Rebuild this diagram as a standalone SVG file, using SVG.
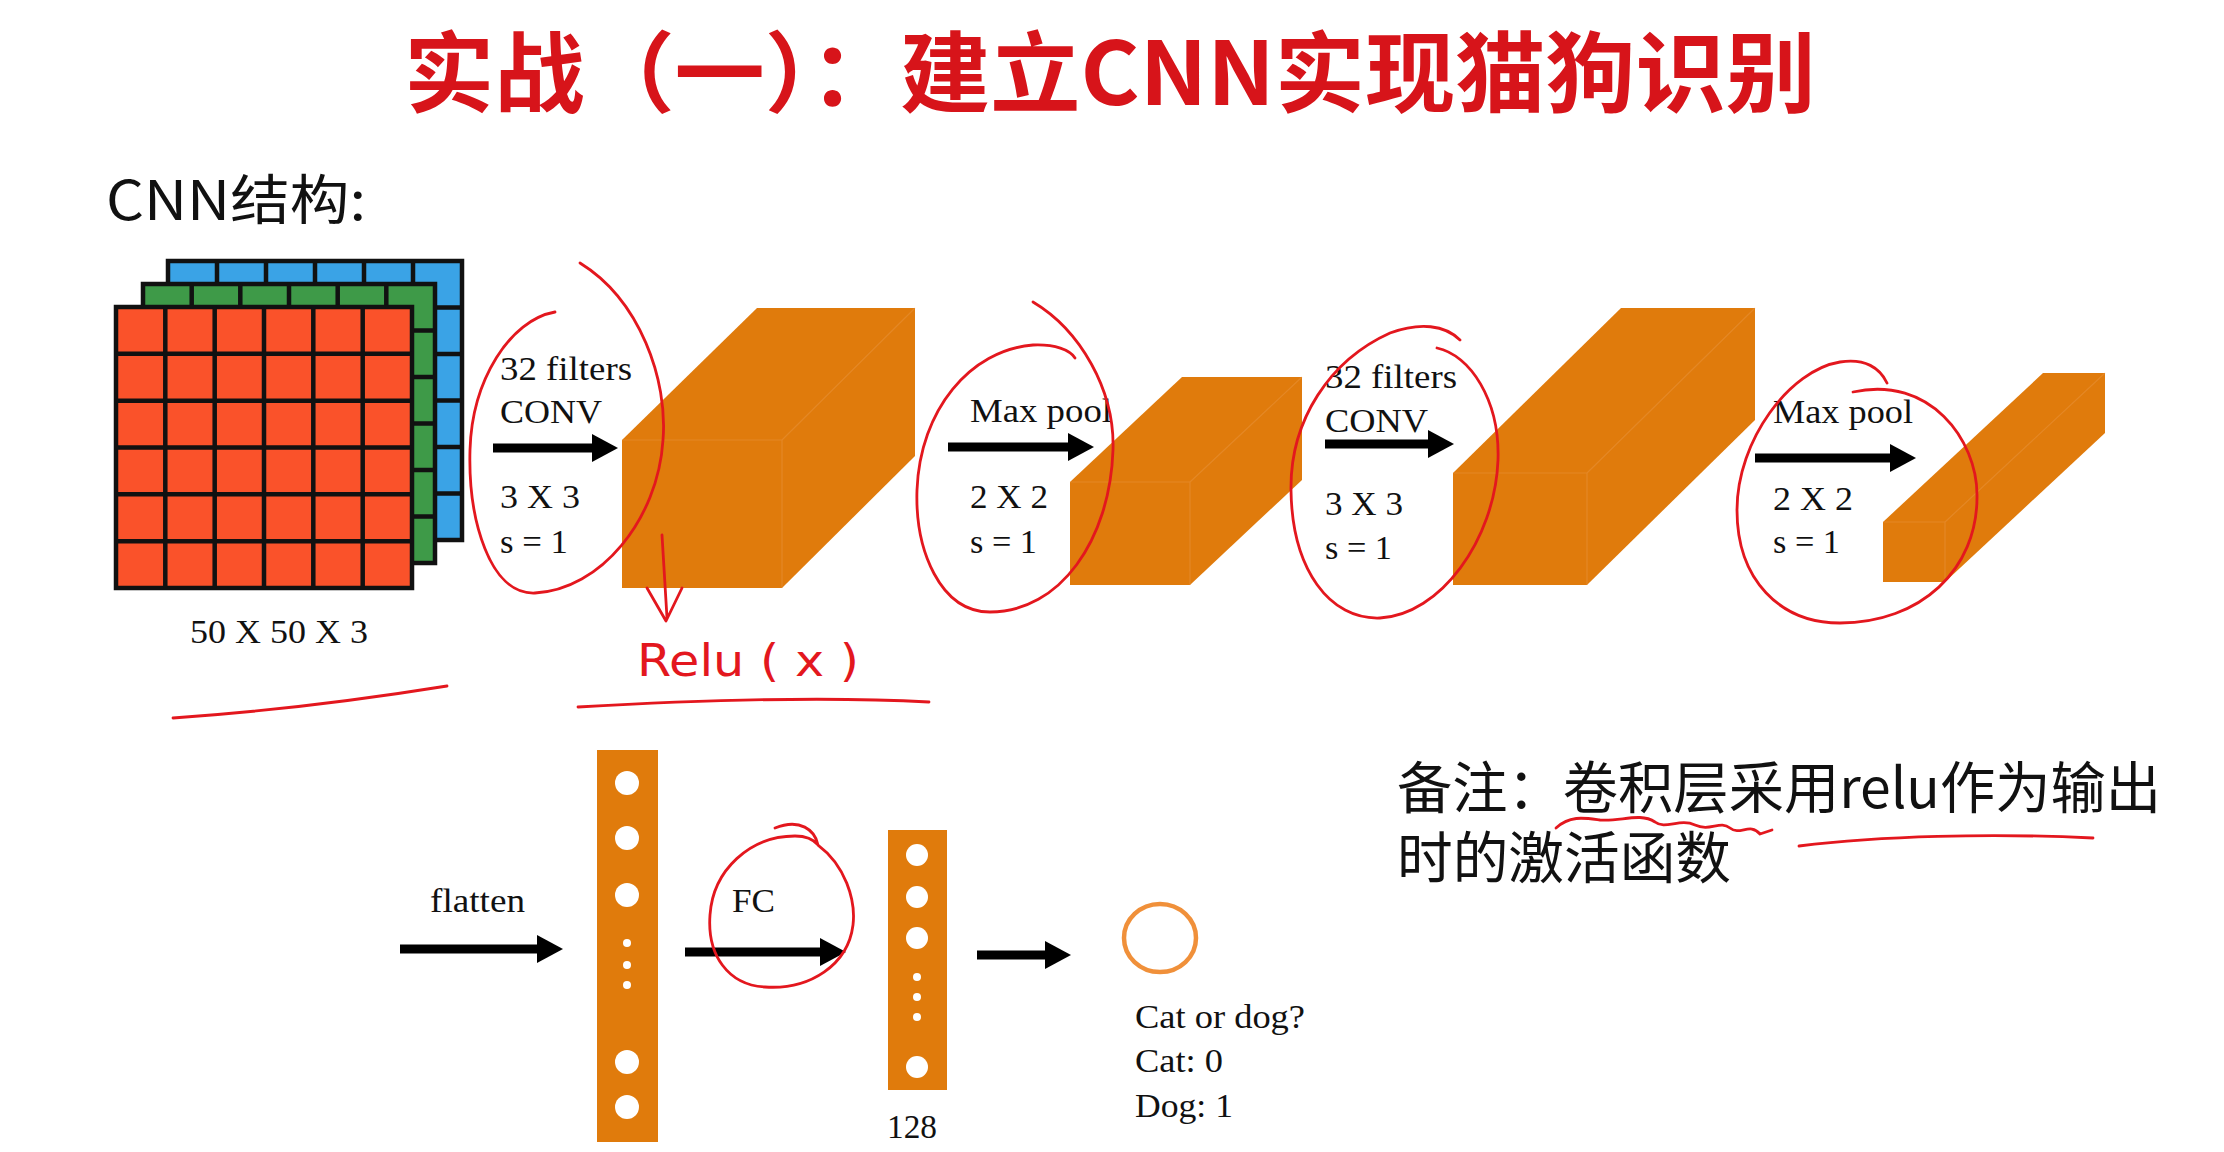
<svg xmlns="http://www.w3.org/2000/svg" width="2224" height="1152" viewBox="0 0 2224 1152">
<defs>
<style>
.t{font-family:"Liberation Serif","Times New Roman",serif;font-size:33px;fill:#111}
.cjk{font-family:"Noto Sans CJK SC","Noto Sans",sans-serif;fill:#111}
.box{fill:#E07B0C}
.edge{fill:none;stroke:#EC9C4A;stroke-width:1.2;opacity:0.4}
.gl{fill:none;stroke:#111;stroke-width:4.5}
.red{fill:none;stroke:#E3171E;stroke-width:2.8;stroke-linecap:round;stroke-linejoin:round}
.arr{stroke:#000;stroke-width:9;fill:none}
.hole{fill:#fff}
</style>
<marker id="ah" markerUnits="userSpaceOnUse" markerWidth="26" markerHeight="28" refX="3" refY="14" orient="auto">
<path d="M0,0 L26,14 L0,28 z" fill="#000"/>
</marker>
</defs>
<rect width="2224" height="1152" fill="#fff"/>

<g id="title">
<text x="404" y="105" textLength="1412" lengthAdjust="spacingAndGlyphs" style="font-family:'Noto Sans CJK SC','Noto Sans',sans-serif;font-weight:bold;font-size:88px;fill:#D7141A">实战（一）：建立CNN实现猫狗识别</text>
</g>

<g id="cnn-label">
<text class="cjk" x="106" y="220" font-size="54" textLength="260" lengthAdjust="spacingAndGlyphs">CNN结构:</text>
</g>

<g id="input-grid">
<rect x="168" y="261" width="294" height="279" fill="#3AA3E6" stroke="#111" stroke-width="4.5"/>
<path class="gl" d="M217,261V540M266,261V540M315,261V540M364,261V540M413,261V540M168,307.5H462M168,354H462M168,400.5H462M168,447H462M168,493.5H462"/>
<rect x="143" y="284" width="292" height="279" fill="#3E9A48" stroke="#111" stroke-width="4.5"/>
<path class="gl" d="M191.7,284V563M240.3,284V563M289,284V563M337.7,284V563M386.3,284V563M143,330.5H435M143,377H435M143,423.5H435M143,470H435M143,516.5H435"/>
<rect x="116" y="307" width="296" height="281" fill="#FA522A" stroke="#111" stroke-width="4.5"/>
<path class="gl" d="M165.3,307V588M214.7,307V588M264,307V588M313.3,307V588M362.7,307V588M116,353.8H412M116,400.7H412M116,447.5H412M116,494.3H412M116,541.2H412"/>
<text class="t" x="190" y="643" textLength="178" lengthAdjust="spacingAndGlyphs">50 X 50 X 3</text>
</g>

<g id="conv1-label">
<text class="t" x="500" y="380" textLength="132" lengthAdjust="spacingAndGlyphs">32 filters</text>
<text class="t" x="500" y="423" textLength="102" lengthAdjust="spacingAndGlyphs">CONV</text>
<text class="t" x="500" y="508" textLength="80" lengthAdjust="spacingAndGlyphs">3 X 3</text>
<text class="t" x="500" y="553" textLength="68" lengthAdjust="spacingAndGlyphs">s = 1</text>
</g>

<g id="cube1">
<polygon class="box" points="622,588 622,440 757,308 915,308 915,456 782,588"/>
<path class="edge" d="M622,440H782V588M782,440L915,308"/>
</g>

<g id="pool1-label">
<text class="t" x="970" y="422" textLength="142" lengthAdjust="spacingAndGlyphs">Max pool</text>
<text class="t" x="970" y="508" textLength="78" lengthAdjust="spacingAndGlyphs">2 X 2</text>
<text class="t" x="970" y="553" textLength="67" lengthAdjust="spacingAndGlyphs">s = 1</text>
</g>

<g id="cube2">
<polygon class="box" points="1070,585 1070,482 1182,377 1302,377 1302,480 1190,585"/>
<path class="edge" d="M1070,482H1190V585M1190,482L1302,377"/>
</g>

<g id="conv2-label">
<text class="t" x="1325" y="388" textLength="132" lengthAdjust="spacingAndGlyphs">32 filters</text>
<text class="t" x="1325" y="432" textLength="103" lengthAdjust="spacingAndGlyphs">CONV</text>
<text class="t" x="1325" y="515" textLength="78" lengthAdjust="spacingAndGlyphs">3 X 3</text>
<text class="t" x="1325" y="559" textLength="67" lengthAdjust="spacingAndGlyphs">s = 1</text>
</g>

<g id="cube3">
<polygon class="box" points="1453,585 1453,473 1621,308 1755,308 1755,420 1587,585"/>
<path class="edge" d="M1453,473H1587V585M1587,473L1755,308"/>
</g>

<g id="pool2-label">
<text class="t" x="1773" y="423" textLength="140" lengthAdjust="spacingAndGlyphs">Max pool</text>
<text class="t" x="1773" y="510" textLength="80" lengthAdjust="spacingAndGlyphs">2 X 2</text>
<text class="t" x="1773" y="553" textLength="67" lengthAdjust="spacingAndGlyphs">s = 1</text>
</g>

<g id="cube4">
<polygon class="box" points="1883,582 1883,522 2043,373 2105,373 2105,433 1945,582"/>
<path class="edge" d="M1883,522H1945V582M1945,522L2105,373"/>
</g>

<g id="flatten-label">
<text class="t" x="430" y="912" textLength="95" lengthAdjust="spacingAndGlyphs">flatten</text>
</g>

<g id="dense1">
<rect class="box" x="597" y="750" width="61" height="392"/>
<circle class="hole" cx="627" cy="783" r="12"/>
<circle class="hole" cx="627" cy="838" r="12"/>
<circle class="hole" cx="627" cy="895" r="12"/>
<circle class="hole" cx="627" cy="943" r="4"/>
<circle class="hole" cx="627" cy="965" r="4"/>
<circle class="hole" cx="627" cy="985" r="4"/>
<circle class="hole" cx="627" cy="1062" r="12"/>
<circle class="hole" cx="627" cy="1107" r="12"/>
</g>

<g id="fc-label">
<text class="t" x="732" y="912" textLength="43" lengthAdjust="spacingAndGlyphs">FC</text>
</g>

<g id="dense2">
<rect class="box" x="888" y="830" width="59" height="260"/>
<circle class="hole" cx="917" cy="855" r="11"/>
<circle class="hole" cx="917" cy="897" r="11"/>
<circle class="hole" cx="917" cy="938" r="11"/>
<circle class="hole" cx="917" cy="977" r="4"/>
<circle class="hole" cx="917" cy="997" r="4"/>
<circle class="hole" cx="917" cy="1017" r="4"/>
<circle class="hole" cx="917" cy="1067" r="11"/>
<text class="t" x="887" y="1138" textLength="50" lengthAdjust="spacingAndGlyphs">128</text>
</g>

<g id="output">
<ellipse cx="1160" cy="938" rx="36" ry="34" fill="none" stroke="#F0903A" stroke-width="4.5"/>
<text class="t" x="1135" y="1028" textLength="170" lengthAdjust="spacingAndGlyphs">Cat or dog?</text>
<text class="t" x="1135" y="1072" textLength="88" lengthAdjust="spacingAndGlyphs">Cat: 0</text>
<text class="t" x="1135" y="1117" textLength="98" lengthAdjust="spacingAndGlyphs">Dog: 1</text>
</g>

<g id="note">
<text class="cjk" x="1397" y="808" font-size="56" textLength="764" lengthAdjust="spacingAndGlyphs">备注：卷积层采用relu作为输出</text>
<text class="cjk" x="1397" y="878" font-size="56" textLength="334" lengthAdjust="spacingAndGlyphs">时的激活函数</text>
</g>

<g id="connectors">
<line class="arr" x1="493" y1="448" x2="595" y2="448" marker-end="url(#ah)"/>
<line class="arr" x1="948" y1="447" x2="1071" y2="447" marker-end="url(#ah)"/>
<line class="arr" x1="1325" y1="444" x2="1431" y2="444" marker-end="url(#ah)"/>
<line class="arr" x1="1755" y1="458" x2="1893" y2="458" marker-end="url(#ah)"/>
<line class="arr" x1="400" y1="949" x2="540" y2="949" marker-end="url(#ah)"/>
<line class="arr" x1="685" y1="952" x2="823" y2="952" marker-end="url(#ah)"/>
<line class="arr" x1="977" y1="955" x2="1048" y2="955" marker-end="url(#ah)"/>
</g>

<g id="annotations">
<path class="red" d="M580,263 C640,300 668,380 663,440 C658,520 600,590 535,593 C490,595 468,520 470,450 C472,380 510,320 555,312"/>
<path class="red" d="M1033,302 C1080,330 1115,390 1113,450 C1110,540 1060,612 990,612 C940,612 915,550 917,490 C920,410 970,350 1033,345 C1055,344 1070,350 1075,358"/>
<path class="red" d="M1460,340 C1445,325 1420,322 1390,333 C1330,360 1290,420 1291,490 C1292,570 1330,620 1380,618 C1440,615 1495,540 1498,460 C1500,400 1470,355 1437,348"/>
<path class="red" d="M1853,392 C1930,375 1977,440 1977,495 C1978,570 1920,623 1840,623 C1780,623 1737,580 1737,510 C1737,440 1790,370 1840,362 C1865,358 1880,368 1887,383"/>
<path class="red" d="M775,828 C800,818 815,830 818,845 C845,865 856,900 853,925 C848,965 810,990 765,987 C728,985 707,955 710,915 C713,870 750,836 795,836 C808,836 814,840 818,845"/>
<path class="red" d="M662,535 L667,618 M647,588 L666,621 L682,588"/>
<text x="637" y="676" textLength="222" lengthAdjust="spacingAndGlyphs" style="font-family:'DejaVu Sans',sans-serif;font-size:44px;fill:#E3171E">Relu ( x )</text>
<path class="red" d="M578,707 C700,700 820,696 929,702"/>
<path class="red" d="M173,718 C260,712 360,700 447,686"/>
<path class="red" d="M1556,828 C1570,815 1585,818 1600,820 C1620,822 1640,812 1655,822 C1665,830 1680,818 1695,825 C1710,832 1720,820 1730,828 C1740,836 1750,822 1760,834 L1772,830"/>
<path class="red" d="M1799,846 C1880,836 1990,833 2093,838"/>
</g>
</svg>
